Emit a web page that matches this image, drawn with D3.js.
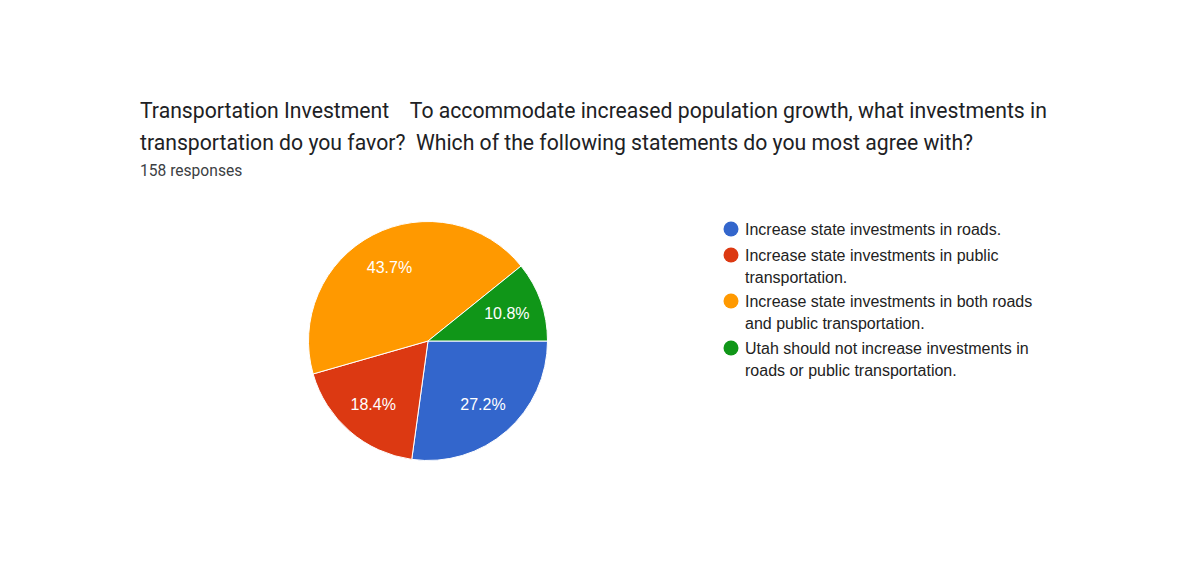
<!DOCTYPE html>
<html>
<head>
<meta charset="utf-8">
<script src="https://cdn.jsdelivr.net/npm/d3@7"></script>
<style>
  body { margin: 0; background: #fff; }
</style>
</head>
<body>
<div id="chart"></div>
<script>
// Data
const titleLines = [
    "Transportation Investment    To accommodate increased population growth, what investments in",
    "transportation do you favor?  Which of the following statements do you most agree with?"
];
const subtitle = "158 responses";
const categories = [
    "Increase state investments in roads.",
    "Increase state investments in public transportation.",
    "Increase state investments in both roads and public transportation.",
    "Utah should not increase investments in roads or public transportation."
];
const legendLines = [
    ["Increase state investments in roads."],
    ["Increase state investments in public", "transportation."],
    ["Increase state investments in both roads", "and public transportation."],
    ["Utah should not increase investments in", "roads or public transportation."]
];
const values = [27.2, 18.4, 43.7, 10.8];
const colors = ["#3366cc", "#dc3912", "#ff9900", "#109618"];

function createPieChart() {
    const width = 1200, height = 577;
    const cx = 428, cy = 341, radius = 119.5;

    const svg = d3.select("#chart")
        .append("svg")
        .attr("width", width)
        .attr("height", height);

    // Title
    const title = svg.append("g")
        .attr("font-family", "Roboto, sans-serif")
        .attr("fill", "#202124");
    titleLines.forEach((t, i) => {
        title.append("text")
            .attr("x", 140)
            .attr("y", 118 + i * 32)
            .attr("font-size", 21.2)
            .style("white-space", "pre")
            .text(t);
    });
    title.append("text")
        .attr("x", 140)
        .attr("y", 176)
        .attr("font-size", 15.6)
        .attr("fill", "#3c4043")
        .text(subtitle);

    // Pie
    const data = categories.map((c, i) => ({ name: c, value: values[i], color: colors[i] }));
    const pie = d3.pie()
        .value(d => d.value)
        .sort(null)
        .startAngle(Math.PI / 2)
        .endAngle(Math.PI / 2 + 2 * Math.PI);
    const arc = d3.arc().innerRadius(0).outerRadius(radius);
    const labelArc = d3.arc().innerRadius(radius * 0.7).outerRadius(radius * 0.7);

    const g = svg.append("g")
        .attr("transform", `translate(${cx},${cy})`);

    g.selectAll("path")
        .data(pie(data))
        .enter()
        .append("path")
        .attr("d", arc)
        .attr("fill", d => d.data.color)
        .attr("stroke", "#fff")
        .attr("stroke-width", 1);

    g.selectAll("text")
        .data(pie(data))
        .enter()
        .append("text")
        .attr("transform", d => `translate(${labelArc.centroid(d)})`)
        .attr("text-anchor", "middle")
        .attr("dy", "0.36em")
        .attr("font-family", "Arial, 'Liberation Sans', sans-serif")
        .attr("font-size", 16)
        .attr("fill", "#fff")
        .text(d => d.data.value.toFixed(1) + "%");

    // Legend
    const legend = svg.append("g")
        .attr("font-family", "Arial, 'Liberation Sans', sans-serif")
        .attr("font-size", 16)
        .attr("fill", "#222");
    const itemTops = [229, 255, 301, 348];
    legendLines.forEach((lines, i) => {
        const item = legend.append("g");
        item.append("circle")
            .attr("cx", 731)
            .attr("cy", itemTops[i])
            .attr("r", 7.5)
            .attr("fill", colors[i]);
        lines.forEach((l, j) => {
            item.append("text")
                .attr("x", 745)
                .attr("y", itemTops[i] + j * 22)
                .attr("dy", "0.36em")
                .text(l);
        });
    });
}

createPieChart();
</script>
</body>
</html>
